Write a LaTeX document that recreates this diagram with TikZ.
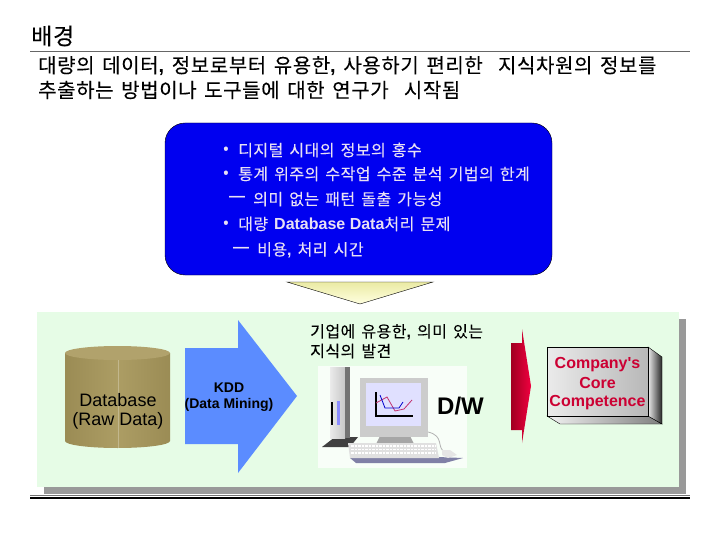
\documentclass[tikz,border=0pt]{standalone}
\usepackage{fontspec}
\setmainfont[LetterSpace=3, WordSpace=1.5, FakeBold=0.1]{Noto Sans CJK KR}
\newfontfamily\latfont{Liberation Sans}
\usetikzlibrary{shapes.geometric}
\definecolor{panelgreen}{HTML}{E6FCE6}
\definecolor{panelshadow}{HTML}{999999}
\definecolor{boxblue}{HTML}{0000F0}
\definecolor{boxtext}{HTML}{E8E0F4}
\definecolor{kddblue}{HTML}{5B8CFF}
\definecolor{drumbrown}{HTML}{A8985C}
\definecolor{corered}{HTML}{CC0033}
\definecolor{arrowdark}{HTML}{A00020}
\definecolor{arrowlight}{HTML}{F00040}
\newcommand{\lat}[1]{{\latfont\bfseries #1}}
\tikzset{
  bodytext/.style={anchor=west, inner sep=0pt, font=\fontsize{20}{22}\selectfont},
  bluetext/.style={anchor=west, inner sep=0pt, text=boxtext, font=\fontsize{16}{18}\selectfont},
  blacktext/.style={anchor=west, inner sep=0pt, font=\fontsize{16}{18}\selectfont},
  labeltext/.style={inner sep=0pt, font=\latfont\fontsize{18}{20}\selectfont},
  kddtext/.style={inner sep=0pt, font=\latfont\bfseries\fontsize{14}{16}\selectfont},
  coretext/.style={inner sep=0pt, text=corered, font=\latfont\bfseries\fontsize{16}{18}\selectfont}
}
\begin{document}
\begin{tikzpicture}[x=1pt, y=-1pt]
\useasboundingbox (0, 0) rectangle (720, 540);
\fill [white] (0, 0) rectangle (720, 540);
\draw [black!60, line width=1.5pt] (30, 51.5) -- (690, 51.5);
\node [anchor=west, inner sep=0pt, font=\fontsize{23}{26}\selectfont] (title) at (31, 36) {배경};
\node [bodytext] (intro1) at (38, 66) {대량의 데이터\lat{,} 정보로부터 유용한\lat{,} 사용하기 편리한\ \ 지식차원의 정보를};
\node [bodytext] (intro2) at (38, 90) {추출하는 방법이나 도구들에 대한 연구가\ \ 시작됨};

\draw [black, fill=boxblue, rounded corners=20pt] (165, 123) rectangle (552, 275);
\node [bluetext] (bull1) at (223, 150) {•};
\node [bluetext] (item1) at (238, 150) {디지털 시대의 정보의 홍수};
\node [bluetext] (bull2) at (223, 174) {•};
\node [bluetext] (item2) at (238, 174) {통계 위주의 수작업 수준 분석 기법의 한계};
\node [bluetext] (dash1) at (229, 199) {\lat{—}};
\node [bluetext] (item3) at (253, 199) {의미 없는 패턴 돌출 가능성};
\node [bluetext] (bull3) at (223, 224) {•};
\node [bluetext] (item4) at (238, 224) {대량 \lat{Database Data}처리 문제};
\node [bluetext] (dash2) at (233, 250) {\lat{—}};
\node [bluetext] (item5) at (257, 250) {비용\lat{,} 처리 시간};

\draw [black, top color=yellow!30!white!92!black, bottom color=yellow!12!white] (287, 282) -- (433, 282) -- (360, 304) -- cycle;

\fill [panelshadow] (44, 319) rectangle (686, 494);
\fill [panelgreen] (37, 312) rectangle (679, 487);
\draw [black!55, line width=1pt] (30, 495) -- (690, 495);
\draw [black, line width=2pt] (30, 497.5) -- (690, 497.5);

\shade [left color=drumbrown!92!black, right color=drumbrown!92!black, middle color=drumbrown!95!white] (65, 353) -- (65, 441) arc [start angle=180, end angle=0, x radius=52.5, y radius=7] -- (170, 353) -- cycle;
\fill [drumbrown!90!white] (117.5, 353) ellipse [x radius=52.5, y radius=7];
\draw [drumbrown!70!white, line width=0.5pt] (118, 360) -- (118, 448);
\node [labeltext] (drum1) at (118, 400) {Database};
\node [labeltext] (drum2) at (118, 421) {(Raw Data)};

\fill [kddblue] (185, 348) -- (238, 348) -- (238, 320) -- (297, 396) -- (238, 473) -- (238, 444) -- (185, 444) -- cycle;
\node [kddtext] (kdd1) at (229, 388) {KDD};
\node [kddtext] (kdd2) at (229, 405) {(Data Mining)};

\node [blacktext] (find1) at (310, 332) {기업에 유용한\lat{,} 의미 있는};
\node [blacktext] (find2) at (310, 351) {지식의 발견};

\fill [white!70!panelgreen] (318, 366) rectangle (467, 468);
\fill [black!75] (322, 447) -- (335, 437) -- (358, 437) -- (350, 447) -- cycle;
\shade [left color=black!8, right color=black!22] (330, 367) rectangle (345, 438);
\fill [black!55] (345, 367) rectangle (350, 438);
\fill [black] (331, 402) rectangle (332.5, 425);
\fill [blue!45!white] (337, 401) rectangle (340, 425);
\draw [black!30, line width=0.8pt] (428, 432) .. controls (445, 436) and (436, 448) .. (445, 452);
\fill [black!35] (380, 436) -- (410, 436) -- (414, 444) -- (376, 444) -- cycle;
\fill [black!20] (360, 378) rectangle (428, 437);
\fill [blue!12!white] (366, 383) rectangle (421, 426);
\draw [black, line width=1.2pt] (376, 392) -- (376, 416) -- (413, 416);
\draw [red!70!blue!80!white, line width=0.8pt] (376, 403) -- (387, 397) -- (395, 411) -- (404, 409) -- (412, 400);
\draw [blue!80!black, line width=0.8pt] (380, 395) -- (385, 408) -- (399, 408) -- (403, 402);
\fill [blue!30!black!50] (350, 458) -- (438, 457) -- (463, 458) -- (445, 463) -- (356, 463) -- cycle;
\fill [black!12] (348, 443) -- (436, 443) -- (439, 458) -- (350, 458) -- cycle;
\foreach \keyrow in {446, 449.5, 453} {
  \draw [white, line width=1.6pt, dash pattern=on 2.5pt off 1pt] (351, \keyrow) -- (436, \keyrow);
}
\fill [black!10] (442, 450) -- (450, 450) -- (457, 455) -- (448, 458) -- (442, 455) -- cycle;
\node [inner sep=0pt, font=\latfont\bfseries\fontsize{24}{26}\selectfont] (dw) at (460.5, 406) {D/W};

\shade [left color=arrowdark, right color=arrowlight] (511, 343) -- (522, 343) -- (522, 329) -- (531, 386) -- (522, 443) -- (522, 430) -- (511, 430) -- cycle;

\draw [black, left color=black!5, right color=black!50] (648, 416) -- (662, 424) -- (560, 424) -- (547, 416) -- cycle;
\draw [black, left color=black!8, right color=black!85] (648, 347) -- (662, 357) -- (662, 424) -- (648, 416) -- cycle;
\draw [black, left color=black!8, right color=black!28] (547, 347) rectangle (648, 416);
\node [coretext] (core1) at (597.5, 365) {Company's};
\node [coretext] (core2) at (597.5, 383) {Core};
\node [coretext] (core3) at (597.5, 403) {Competence};
\end{tikzpicture}
\end{document}
